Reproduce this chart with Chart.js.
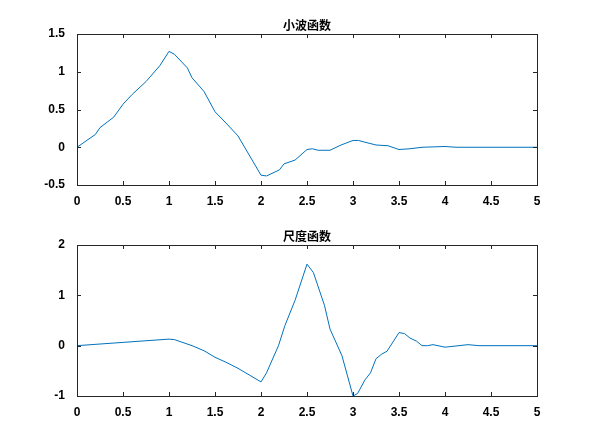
<!DOCTYPE html>
<html><head><meta charset="utf-8">
<script src="https://cdn.jsdelivr.net/npm/chart.js@4"></script>
<style>body{margin:0;background:#fff;width:593px;height:446px;position:relative;overflow:hidden}
canvas{position:absolute;left:0}</style></head><body>
<div style="position:absolute;left:0;top:0;width:593px;height:215px"><canvas id="c1"></canvas></div>
<div style="position:absolute;left:0;top:215px;width:593px;height:231px"><canvas id="c2"></canvas></div>
<script>
const waveX=[0,0.2,0.25,0.4,0.5,0.6,0.75,0.9,1.0,1.06,1.2,1.25,1.38,1.5,1.62,1.75,2.0,2.06,2.2,2.25,2.37,2.5,2.56,2.62,2.75,2.87,3.0,3.06,3.12,3.25,3.38,3.5,3.62,3.75,4.0,4.12,5];
const waveY=[0,0.17,0.26,0.4,0.57,0.7,0.87,1.08,1.27,1.23,1.05,0.92,0.74,0.47,0.32,0.15,-0.37,-0.38,-0.3,-0.22,-0.17,-0.03,-0.02,-0.04,-0.04,0.03,0.09,0.09,0.07,0.03,0.02,-0.03,-0.02,0,0.01,0,0];
const scaleX=[0,1.0,1.06,1.25,1.38,1.5,1.62,1.75,2.0,2.06,2.19,2.26,2.37,2.5,2.57,2.69,2.75,2.88,3.0,3.05,3.13,3.19,3.25,3.31,3.37,3.5,3.56,3.62,3.69,3.75,3.81,3.87,4.0,4.25,4.37,5];
const scaleY=[0,0.13,0.12,0.0,-0.1,-0.23,-0.33,-0.45,-0.72,-0.54,0,0.4,0.9,1.62,1.45,0.8,0.33,-0.2,-1.0,-0.95,-0.68,-0.54,-0.26,-0.17,-0.11,0.26,0.24,0.15,0.09,0,0,0.02,-0.03,0.02,0,0];
const titles=['小波函数','尺度函数'];
const xTicks=[0,0.5,1,1.5,2,2.5,3,3.5,4,4.5,5];
const font={family:'Liberation Sans, Arial',size:12,weight:'bold'};
const fmt=v=>String(Math.round(v*100)/100);
const boxPlugin={id:'box',afterDraw(ch,a,o){const c=ch.ctx,ca=ch.chartArea;c.save();c.strokeStyle='#262626';c.lineWidth=1;
c.strokeRect(Math.round(ca.left)+0.5,Math.round(ca.top)+0.5,Math.round(ca.right-ca.left),Math.round(ca.bottom-ca.top));
const xs=ch.scales.x,ys=ch.scales.y;c.beginPath();
xs.ticks.forEach(t=>{const p=Math.round(xs.getPixelForValue(t.value))+0.5;c.moveTo(p,ca.bottom);c.lineTo(p,ca.bottom-4);c.moveTo(p,ca.top);c.lineTo(p,ca.top+4);});
ys.ticks.forEach(t=>{const p=Math.round(ys.getPixelForValue(t.value))+0.5;c.moveTo(ca.left,p);c.lineTo(ca.left+4,p);c.moveTo(ca.right,p);c.lineTo(ca.right-4,p);});
c.stroke();
c.fillStyle='#000';c.font='bold 12px "Noto Sans CJK SC"';c.textAlign='center';c.textBaseline='bottom';
c.fillText(o.text,(ca.left+ca.right)/2,ca.top-3);c.restore();}};
function make(id,xs,ys,ymin,ymax,step,title,top,xh){
new Chart(document.getElementById(id),{type:'line',
data:{datasets:[{data:xs.map((x,i)=>({x,y:ys[i]})),borderColor:'#0072BD',borderWidth:1,pointRadius:0,tension:0}]},
options:{responsive:true,maintainAspectRatio:false,animation:false,
layout:{padding:{top:top,right:56,left:0,bottom:0}},
plugins:{legend:{display:false},tooltip:{enabled:false},box:{text:title}},
scales:{x:{type:'linear',min:0,max:5,afterBuildTicks:s=>{s.ticks=xTicks.map(v=>({value:v}))},
grid:{display:false},border:{display:false},afterFit:s=>{s.height=xh},ticks:{color:'#000',font,padding:1,maxRotation:0,callback:fmt}},
y:{min:ymin,max:ymax,ticks:{stepSize:step,color:'#000',font,padding:4,callback:fmt},grid:{display:false},border:{display:false},afterFit:s=>{s.width=77}}}},
plugins:[boxPlugin]});}
make('c1',waveX,waveY,-0.5,1.5,0.5,titles[0],34,30);
make('c2',scaleX,scaleY,-1,2,1,titles[1],30,50);
</script></body></html>
